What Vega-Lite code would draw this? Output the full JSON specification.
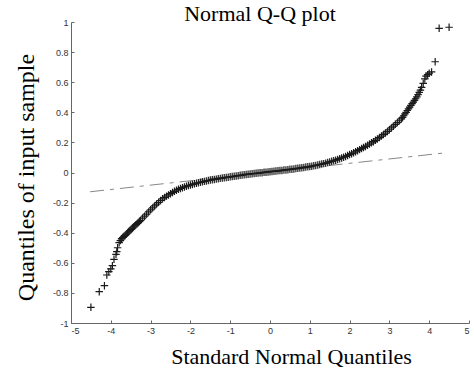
{
"$schema": "https://vega.github.io/schema/vega-lite/v6.json",
"width": 398, "height": 301,
"autosize": {"type": "none"},
"padding": {"left": 71, "top": 22, "right": 5, "bottom": 49},
"background": "white",
"config": {"view": {"stroke": null},
 "axis": {"domainColor": "#666", "tickColor": "#666", "labelColor": "#333", "labelFont": "Liberation Sans", "labelFontSize": 9, "labelOverlap": false, "grid": false, "tickSize": -3, "titleFont": "Liberation Serif", "titleFontWeight": "normal", "titleFontSize": 22, "titleColor": "black"},
 "axisQuantitative": {"labelOverlap": false}},
"title": {"text": "Normal Q-Q plot", "font": "Liberation Serif", "fontSize": 22, "fontWeight": "normal", "color": "black", "baseline": "alphabetic", "offset": -25, "dx": -10},
"datasets": {
 "ref": [{"q": -4.52, "s": -0.128}, {"q": 4.45, "s": 0.132}],
 "pts": [
{"q":-4.50,"s":-0.896},{"q":-4.29,"s":-0.792},{"q":-4.16,"s":-0.752},{"q":-4.10,"s":-0.681},{"q":-4.05,"s":-0.659},{"q":-4.00,"s":-0.641},{"q":-3.96,"s":-0.619},{"q":-3.92,"s":-0.577},{"q":-3.87,"s":-0.544},{"q":-3.85,"s":-0.526},{"q":-3.83,"s":-0.500},{"q":-3.79,"s":-0.466},{"q":-3.76,"s":-0.452},{"q":-3.73,"s":-0.440},{"q":-3.70,"s":-0.432},{"q":-3.67,"s":-0.425},{"q":-3.64,"s":-0.418},{"q":-3.61,"s":-0.410},{"q":-3.58,"s":-0.402},{"q":-3.55,"s":-0.394},{"q":-3.52,"s":-0.386},{"q":-3.49,"s":-0.378},{"q":-3.46,"s":-0.370},{"q":-3.43,"s":-0.362},{"q":-3.40,"s":-0.355},{"q":-3.37,"s":-0.347},{"q":-3.34,"s":-0.340},{"q":-3.31,"s":-0.333},{"q":-3.28,"s":-0.326},
{"q":-3.25,"s":-0.318},{"q":-3.20,"s":-0.303},{"q":-3.15,"s":-0.290},{"q":-3.10,"s":-0.276},{"q":-3.05,"s":-0.262},{"q":-3.00,"s":-0.248},{"q":-2.95,"s":-0.235},{"q":-2.90,"s":-0.222},{"q":-2.85,"s":-0.210},{"q":-2.80,"s":-0.198},{"q":-2.75,"s":-0.186},{"q":-2.70,"s":-0.175},{"q":-2.65,"s":-0.166},{"q":-2.60,"s":-0.157},{"q":-2.55,"s":-0.149},{"q":-2.50,"s":-0.141},{"q":-2.45,"s":-0.133},{"q":-2.40,"s":-0.125},{"q":-2.35,"s":-0.118},{"q":-2.30,"s":-0.112},{"q":-2.25,"s":-0.106},{"q":-2.20,"s":-0.101},{"q":-2.15,"s":-0.096},{"q":-2.10,"s":-0.091},{"q":-2.05,"s":-0.087},{"q":-2.00,"s":-0.083},{"q":-1.95,"s":-0.079},{"q":-1.90,"s":-0.075},{"q":-1.85,"s":-0.071},{"q":-1.80,"s":-0.068},{"q":-1.75,"s":-0.065},{"q":-1.70,"s":-0.062},{"q":-1.65,"s":-0.059},{"q":-1.60,"s":-0.056},{"q":-1.55,"s":-0.053},{"q":-1.50,"s":-0.050},{"q":-1.45,"s":-0.048},{"q":-1.40,"s":-0.046},{"q":-1.35,"s":-0.044},{"q":-1.30,"s":-0.041},{"q":-1.25,"s":-0.039},{"q":-1.20,"s":-0.037},{"q":-1.15,"s":-0.035},{"q":-1.10,"s":-0.033},{"q":-1.05,"s":-0.031},{"q":-1.00,"s":-0.029},{"q":-0.95,"s":-0.027},{"q":-0.90,"s":-0.025},{"q":-0.85,"s":-0.023},{"q":-0.80,"s":-0.021},{"q":-0.75,"s":-0.019},{"q":-0.70,"s":-0.017},{"q":-0.65,"s":-0.015},{"q":-0.60,"s":-0.013},{"q":-0.55,"s":-0.011},{"q":-0.50,"s":-0.010},{"q":-0.45,"s":-0.008},{"q":-0.40,"s":-0.007},{"q":-0.35,"s":-0.005},{"q":-0.30,"s":-0.004},{"q":-0.25,"s":-0.002},{"q":-0.20,"s":-0.001},{"q":-0.15,"s":0.001},{"q":-0.10,"s":0.002},{"q":-0.05,"s":0.004},{"q":0.00,"s":0.005},{"q":0.05,"s":0.007},{"q":0.10,"s":0.008},{"q":0.15,"s":0.010},{"q":0.20,"s":0.011},{"q":0.25,"s":0.013},{"q":0.30,"s":0.014},{"q":0.35,"s":0.016},{"q":0.40,"s":0.017},{"q":0.45,"s":0.019},{"q":0.50,"s":0.021},{"q":0.55,"s":0.022},{"q":0.60,"s":0.024},{"q":0.65,"s":0.026},{"q":0.70,"s":0.028},{"q":0.75,"s":0.030},{"q":0.80,"s":0.032},{"q":0.85,"s":0.034},{"q":0.90,"s":0.036},{"q":0.95,"s":0.038},{"q":1.00,"s":0.040},{"q":1.05,"s":0.042},{"q":1.10,"s":0.045},{"q":1.15,"s":0.047},{"q":1.20,"s":0.050},{"q":1.25,"s":0.053},{"q":1.30,"s":0.056},{"q":1.35,"s":0.059},{"q":1.40,"s":0.062},{"q":1.45,"s":0.066},{"q":1.50,"s":0.070},{"q":1.55,"s":0.074},{"q":1.60,"s":0.078},{"q":1.65,"s":0.082},{"q":1.70,"s":0.087},{"q":1.75,"s":0.092},{"q":1.80,"s":0.097},{"q":1.85,"s":0.102},{"q":1.90,"s":0.107},{"q":1.95,"s":0.113},{"q":2.00,"s":0.119},{"q":2.05,"s":0.125},{"q":2.10,"s":0.131},{"q":2.15,"s":0.138},{"q":2.20,"s":0.145},{"q":2.25,"s":0.152},{"q":2.30,"s":0.159},{"q":2.35,"s":0.166},{"q":2.40,"s":0.173},{"q":2.45,"s":0.181},{"q":2.50,"s":0.189},{"q":2.55,"s":0.197},{"q":2.60,"s":0.205},{"q":2.65,"s":0.214},{"q":2.70,"s":0.223},{"q":2.75,"s":0.232},{"q":2.80,"s":0.242},{"q":2.85,"s":0.252},{"q":2.90,"s":0.262},{"q":2.95,"s":0.273},{"q":3.00,"s":0.284},{"q":3.05,"s":0.296},{"q":3.10,"s":0.308},{"q":3.15,"s":0.320},{"q":3.20,"s":0.332},{"q":3.25,"s":0.344},
{"q":3.30,"s":0.356},{"q":3.33,"s":0.366},{"q":3.36,"s":0.377},{"q":3.39,"s":0.389},{"q":3.42,"s":0.400},{"q":3.45,"s":0.412},{"q":3.48,"s":0.423},{"q":3.51,"s":0.435},{"q":3.54,"s":0.446},{"q":3.57,"s":0.457},{"q":3.60,"s":0.468},{"q":3.63,"s":0.479},{"q":3.66,"s":0.490},{"q":3.69,"s":0.503},{"q":3.72,"s":0.517},{"q":3.75,"s":0.532},{"q":3.78,"s":0.548},{"q":3.81,"s":0.566},{"q":3.85,"s":0.592},{"q":3.89,"s":0.622},{"q":3.92,"s":0.640},{"q":3.96,"s":0.650},{"q":4.00,"s":0.660},{"q":4.06,"s":0.668},{"q":4.15,"s":0.736},{"q":4.25,"s":0.958},{"q":4.50,"s":0.965}
 ]},
"encoding": {
 "x": {"field": "q", "type": "quantitative", "scale": {"domain": [-5, 5], "nice": false, "zero": false},
   "axis": {"values": [-5,-4,-3,-2,-1,0,1,2,3,4,5], "labelOverlap": false, "labelExpr": "toString(datum.value)", "title": "Standard Normal Quantiles", "titleX": 220, "titleY": 40, "titleAlign": "center", "titleBaseline": "alphabetic", "labelPadding": 6}},
 "y": {"field": "s", "type": "quantitative", "scale": {"domain": [-1, 1], "nice": false, "zero": false},
   "axis": {"values": [-1,-0.8,-0.6,-0.4,-0.2,0,0.2,0.4,0.6,0.8,1], "labelOverlap": false, "labelExpr": "toString(datum.value)", "title": "Quantiles of input sample", "titleFontSize": 24, "titleX": -38, "titleY": 155, "titleAngle": -90, "titleAlign": "center", "titleBaseline": "alphabetic", "labelPadding": 6}}
},
"layer": [
 {"data": {"name": "ref"},
  "mark": {"type": "line", "stroke": "#888", "strokeWidth": 1, "strokeDash": [14, 6, 4, 6]}},
 {"data": {"name": "pts"},
  "mark": {"type": "point", "shape": "M-1,0L1,0M0,-1L0,1", "size": 56, "filled": false, "stroke": "#1a1a1a", "strokeWidth": 1.2, "opacity": 1}}
]
}
